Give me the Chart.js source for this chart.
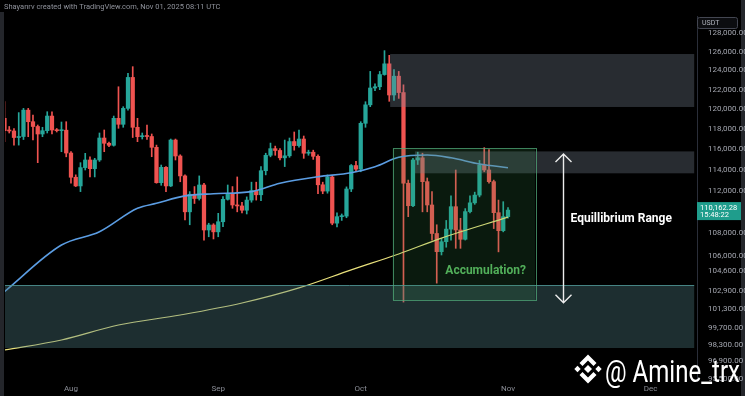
<!DOCTYPE html>
<html>
<head>
<meta charset="utf-8">
<script src="https://cdn.jsdelivr.net/npm/chart.js@4.4.1/dist/chart.umd.min.js"></script>
<style>
  html, body { margin: 0; padding: 0; background: #000; }
  #wrap { width: 745px; height: 396px; }
</style>
</head>
<body>
<div id="wrap"><canvas id="chart" width="745" height="396"></canvas></div>
<script>
// Daily candles, day 0 = Aug 1
const days = [-14, -13, -12, -11, -10, -9, -8, -7, -6, -5, -4, -3, -2, -1,
  0, 1, 2, 3, 4, 5, 6, 7, 8, 9, 10, 11, 12, 13, 14, 15, 16, 17, 18, 19, 20,
  21, 22, 23, 24, 25, 26, 27, 28, 29, 30, 31, 32, 33, 34, 35, 36, 37, 38, 39, 40,
  41, 42, 43, 44, 45, 46, 47, 48, 49, 50, 51, 52, 53, 54, 55, 56, 57, 58, 59, 60,
  61, 62, 63, 64, 65, 66, 67, 68, 69, 70, 71, 72, 73, 74, 75, 76, 77, 78, 79, 80,
  81, 82, 83, 84, 85, 86, 87, 88, 89, 90, 91, 92];

const opens = [119075, 117830, 117800, 117150, 117250, 119900, 118730, 118250, 117500, 117830, 119300, 117900, 117830, 117880,
  115620, 113270, 112440, 114200, 114940, 114100, 114940, 117100, 116580, 116380, 119070, 118470, 120080, 123270, 118170, 117230,
  117300, 117250, 116180, 112750, 114230, 112440, 116900, 115330, 113400, 110000, 111650, 111250, 112530, 108320, 108780, 108150,
  109080, 111170, 111670, 110640, 110550, 110150, 111100, 112000, 111600, 113900, 115400, 116050, 115870, 115150, 115350, 116750,
  116350, 117000, 115600, 115700, 115300, 112550, 111950, 113300, 108950, 109550, 109600, 112150, 114400, 114050, 118570, 120440,
  122170, 122300, 123570, 124700, 121450, 123400, 121700, 112700, 110570, 114940, 115150, 112850, 110640, 108000, 106350, 107250,
  108400, 110480, 108320, 107470, 110020, 110840, 111570, 114450, 113970, 112850, 109920, 108260, 109550];

const highs = [120760, 118250, 118050, 119650, 120080, 120080, 119400, 118400, 118170, 119740, 119740, 118050, 118700, 118730,
  115750, 113500, 114680, 115590, 115260, 115100, 117600, 117900, 116700, 119300, 122300, 120250, 123700, 124400, 119070, 117600,
  118400, 117500, 116400, 114450, 114300, 117000, 117000, 115450, 113500, 111900, 112380, 113400, 112700, 108940, 108900, 109860,
  111420, 112530, 112380, 113300, 110900, 111400, 112800, 112800, 114300, 115600, 116600, 116300, 116050, 116900, 117100, 117700,
  117900, 117300, 115900, 115900, 115450, 112800, 113500, 113400, 109900, 109800, 112350, 114500, 114800, 118730, 120760, 123900,
  122600, 123900, 126100, 125600, 124100, 123900, 122500, 113000, 115100, 115700, 115600, 113200, 111900, 108800, 107550, 109200,
  111500, 113970, 109400, 110300, 111500, 111850, 114900, 116150, 115950, 113000, 111100, 110950, 110400];

const lows = [116740, 117600, 116400, 116400, 116950, 117230, 116900, 114680, 117230, 117600, 117500, 117700, 115750, 115250,
  112700, 112380, 111900, 113970, 113300, 113300, 114800, 115750, 116250, 116300, 118070, 118170, 119900, 117150, 116740, 117000,
  116950, 115260, 112700, 112500, 111900, 112380, 114940, 112840, 109240, 108800, 110780, 111100, 107400, 107700, 107500, 107700,
  108620, 111100, 110330, 110000, 109900, 109800, 110900, 111100, 111050, 113500, 115250, 115400, 114940, 114300, 115200, 115900,
  116200, 115100, 115400, 115000, 111700, 111700, 111750, 108800, 108600, 109200, 109450, 111900, 113800, 113800, 118170, 120250,
  121900, 122000, 123500, 120800, 120900, 121100, 101900, 109550, 110480, 114500, 110000, 110000, 107400, 103550, 106050, 106750,
  107400, 106650, 106650, 107400, 109900, 110700, 111400, 113800, 112700, 108450, 106330, 108150, 109400];

const closes = [117830, 117800, 117150, 117250, 119900, 118730, 118250, 117500, 117830, 119300, 117900, 117830, 117880, 115620,
  113270, 112440, 114200, 114940, 114100, 114940, 117100, 116580, 116380, 119070, 118470, 120080, 123270, 118170, 117230, 117300,
  117250, 116180, 112750, 114230, 112440, 116900, 115330, 113400, 110000, 111650, 111250, 112530, 108320, 108780, 108150, 109080,
  111170, 111670, 110640, 110550, 110150, 111100, 112000, 111600, 113900, 115400, 116050, 115870, 115150, 115350, 116750, 116350,
  117000, 115600, 115700, 115300, 112550, 111950, 113300, 108950, 109550, 109600, 112150, 114400, 114050, 118570, 120440, 122170,
  122300, 123570, 124700, 121450, 123400, 121700, 112700, 110570, 114940, 115150, 112850, 110640, 108000, 106350, 107250, 108400,
  110480, 108320, 107470, 110020, 110840, 111570, 114450, 113970, 112850, 109920, 108260, 109550, 110162.28];

// Moving averages
const maFastDays = [-14, -2, 6, 14, 18, 24, 30, 38, 44, 52, 59, 64, 69, 75, 80, 86, 92];
const maFast = [102810, 106950, 108160, 110330, 110800, 111500, 111700, 111900, 112690, 113320, 113700, 114290, 115200, 115430, 115150, 114550, 114190];
const maSlowDays = [-14, -2, 10, 23, 36, 48, 59, 69, 78, 92];
const maSlow = [97850, 98680, 99940, 100790, 101820, 103130, 104720, 106140, 107580, 109510];

// Axis ticks
const monthDays = [0, 31, 61, 92, 122];
const monthLabels = ['Aug', 'Sep', 'Oct', 'Nov', 'Dec'];
const priceTicks = [128000, 126000, 124000, 122000, 120000, 118000, 116000, 114000, 112000,
  108000, 106000, 104600, 102900, 101300, 99700, 98300, 96900, 95500];

// Zones: supply, equilibrium top, demand
const zoneFrom = [67.2, 72.4, -13.9];
const zoneTo = [131.2, 131.2, 131.2];
const zoneHigh = [125740, 115780, 103350];
const zoneLow = [120220, 113650, 98010];

// Accumulation box and range arrow
const boxRange = [67.7, 97.7];
const boxPrices = [116080, 102080];
const arrowDay = 103.5;
const arrowPrices = [115530, 101850];

const lastPrice = 110162.28;
const lastTime = '15:48:22';

const up = '#26a69a', down = '#ef5350';
const colors = closes.map((c, i) => c >= opens[i] ? up : down);
const fmt = v => v.toLocaleString('en-US', { minimumFractionDigits: 2, maximumFractionDigits: 2 });
const FONT = 'Roboto, "Liberation Sans", sans-serif';

const overlays = {
  id: 'overlays',
  beforeDraw(chart) {
    const c = chart.ctx;
    c.save();
    c.fillStyle = '#000';
    c.fillRect(0, 0, chart.width, chart.height);
    c.fillStyle = '#24262b';
    c.fillRect(0, 12, 4, chart.height - 12);
    c.fillRect(741, 0, 4, chart.height);
    c.fillStyle = '#8f929b';
    c.font = '7.5px ' + FONT;
    c.textBaseline = 'middle';
    c.fillText('Shayanrv created with TradingView.com, Nov 01, 2025 08:11 UTC', 4, 7);
    c.restore();
  },
  afterDatasetsDraw(chart) {
    const { ctx: c, chartArea: a, scales: { x, y } } = chart;
    c.save();
    c.beginPath();
    c.rect(a.left, a.top, a.right - a.left, a.bottom - a.top);
    c.clip();
    const fills = ['rgba(120,134,150,0.33)', 'rgba(120,134,150,0.33)', 'rgba(80,128,132,0.36)'];
    zoneFrom.forEach((d, i) => {
      const x0 = x.getPixelForValue(d), x1 = x.getPixelForValue(zoneTo[i]);
      const y0 = y.getPixelForValue(zoneHigh[i]), y1 = y.getPixelForValue(zoneLow[i]);
      c.fillStyle = fills[i];
      c.fillRect(x0, y0, x1 - x0, y1 - y0);
    });
    // demand zone top edge
    const dy = Math.round(y.getPixelForValue(zoneHigh[2])) + 0.5;
    c.strokeStyle = 'rgba(80,150,150,0.85)';
    c.lineWidth = 1;
    c.beginPath();
    c.moveTo(x.getPixelForValue(zoneFrom[2]), dy);
    c.lineTo(x.getPixelForValue(zoneTo[2]), dy);
    c.stroke();

    // accumulation box
    const bx0 = x.getPixelForValue(boxRange[0]), bx1 = x.getPixelForValue(boxRange[1]);
    const by0 = y.getPixelForValue(boxPrices[0]), by1 = y.getPixelForValue(boxPrices[1]);
    c.fillStyle = 'rgba(60,160,90,0.16)';
    c.fillRect(bx0, by0, bx1 - bx0, by1 - by0);
    c.strokeStyle = 'rgba(80,170,120,0.75)';
    c.strokeRect(Math.round(bx0) + 0.5, Math.round(by0) + 0.5, Math.round(bx1 - bx0), Math.round(by1 - by0));
    c.restore();
  },
  afterDraw(chart) {
    const { ctx: c, scales: { x, y } } = chart;
    c.save();

    // range arrow
    const ax = Math.round(x.getPixelForValue(arrowDay)) + 0.5;
    const at = y.getPixelForValue(arrowPrices[0]), ab = y.getPixelForValue(arrowPrices[1]);
    c.strokeStyle = '#ececec';
    c.lineWidth = 1.4;
    c.beginPath();
    c.moveTo(ax, at); c.lineTo(ax, ab);
    c.moveTo(ax - 8, at + 8); c.lineTo(ax, at); c.lineTo(ax + 8, at + 8);
    c.moveTo(ax - 8, ab - 8); c.lineTo(ax, ab); c.lineTo(ax + 8, ab - 8);
    c.stroke();

    // labels
    c.textBaseline = 'middle';
    c.fillStyle = '#ffffff';
    c.font = 'bold 12px ' + FONT;
    c.fillText('Equillibrium Range', ax + 7, y.getPixelForValue(109340), 108);
    c.fillStyle = '#52b05a';
    c.textAlign = 'center';
    c.fillText('Accumulation?', x.getPixelForValue(87.3), y.getPixelForValue(104580), 86);

    // USDT box
    c.textAlign = 'left';
    c.strokeStyle = '#434651';
    c.lineWidth = 1;
    c.fillStyle = '#0c0d10';
    c.beginPath();
    c.roundRect(697.5, 17.5, 40, 11, 2);
    c.fill(); c.stroke();
    c.fillStyle = '#b2b5be';
    c.font = '7px ' + FONT;
    c.fillText('USDT', 702, 23.5);

    // last price label
    const py = y.getPixelForValue(lastPrice);
    c.fillStyle = '#1f9d8c';
    c.fillRect(697, py - 8, 44, 18);
    c.fillStyle = '#ffffff';
    c.font = '7.5px ' + FONT;
    c.fillText(fmt(lastPrice), 700, py - 2);
    c.fillText(lastTime, 700, py + 5.5);

    // watermark
    const cx = 588, cy = 369;
    c.fillStyle = '#ffffff';
    const diamond = (px, py2, h) => {
      c.beginPath();
      c.moveTo(px, py2 - h); c.lineTo(px + h, py2); c.lineTo(px, py2 + h); c.lineTo(px - h, py2);
      c.closePath(); c.fill();
    };
    diamond(cx, cy, 4);
    diamond(cx - 10.5, cy, 3.2);
    diamond(cx + 10.5, cy, 3.2);
    [-1, 1].forEach(s => {
      c.beginPath();
      c.moveTo(cx, cy + s * 14.5);
      c.lineTo(cx + 8.5, cy + s * 6);
      c.lineTo(cx + 5.5, cy + s * 3);
      c.lineTo(cx, cy + s * 8.5);
      c.lineTo(cx - 5.5, cy + s * 3);
      c.lineTo(cx - 8.5, cy + s * 6);
      c.closePath(); c.fill();
    });
    c.textBaseline = 'alphabetic';
    c.font = '31px ' + FONT;
    c.fillText('@ Amine_trx', 605, 382, 135);
    c.restore();
  }
};

new Chart(document.getElementById('chart'), {
  type: 'bar',
  data: {
    datasets: [
      {
        type: 'line', label: 'MA fast',
        data: maFastDays.map((d, i) => ({ x: d, y: maFast[i] })),
        borderColor: '#5b9de3', borderWidth: 1.6, pointRadius: 0,
        cubicInterpolationMode: 'monotone', order: 0
      },
      {
        type: 'line', label: 'MA slow',
        data: maSlowDays.map((d, i) => ({ x: d, y: maSlow[i] })),
        borderColor: '#e9e17c', borderWidth: 1.2, pointRadius: 0,
        cubicInterpolationMode: 'monotone', order: 0
      },
      {
        label: 'wicks',
        data: days.map((d, i) => ({ x: d, y: [lows[i], highs[i]] })),
        backgroundColor: colors, barThickness: 1, grouped: false, order: 2
      },
      {
        label: 'bodies',
        data: days.map((d, i) => ({ x: d, y: [opens[i], closes[i]] })),
        backgroundColor: colors, barThickness: 3.6, minBarLength: 1, grouped: false, order: 1
      }
    ]
  },
  options: {
    responsive: false,
    devicePixelRatio: 1,
    animation: false,
    layout: { padding: { left: 5, top: 16, right: 0, bottom: 0 } },
    plugins: { legend: { display: false }, tooltip: { enabled: false } },
    scales: {
      x: {
        type: 'linear', min: -13.89, max: 131.79, offset: false,
        grid: { display: false, drawTicks: false }, border: { display: false },
        afterBuildTicks: s => { s.ticks = monthDays.map(v => ({ value: v })); },
        afterFit: s => { s.height = 16; },
        ticks: {
          autoSkip: false, maxRotation: 0, padding: 4, color: '#8a8d96',
          font: { size: 8, family: FONT },
          callback: (v, i) => monthLabels[i]
        }
      },
      y: {
        type: 'logarithmic', position: 'right', min: 95389, max: 129857,
        grid: { display: false }, border: { display: true, color: '#2a2e39' },
        afterBuildTicks: s => { s.ticks = priceTicks.map(v => ({ value: v })); },
        afterFit: s => { s.width = 48; },
        ticks: {
          autoSkip: false, padding: 3, color: '#a3a6af',
          font: { size: 8, family: FONT },
          callback: (v, i) => fmt(priceTicks[i])
        }
      }
    }
  },
  plugins: [overlays]
});
</script>
</body>
</html>
